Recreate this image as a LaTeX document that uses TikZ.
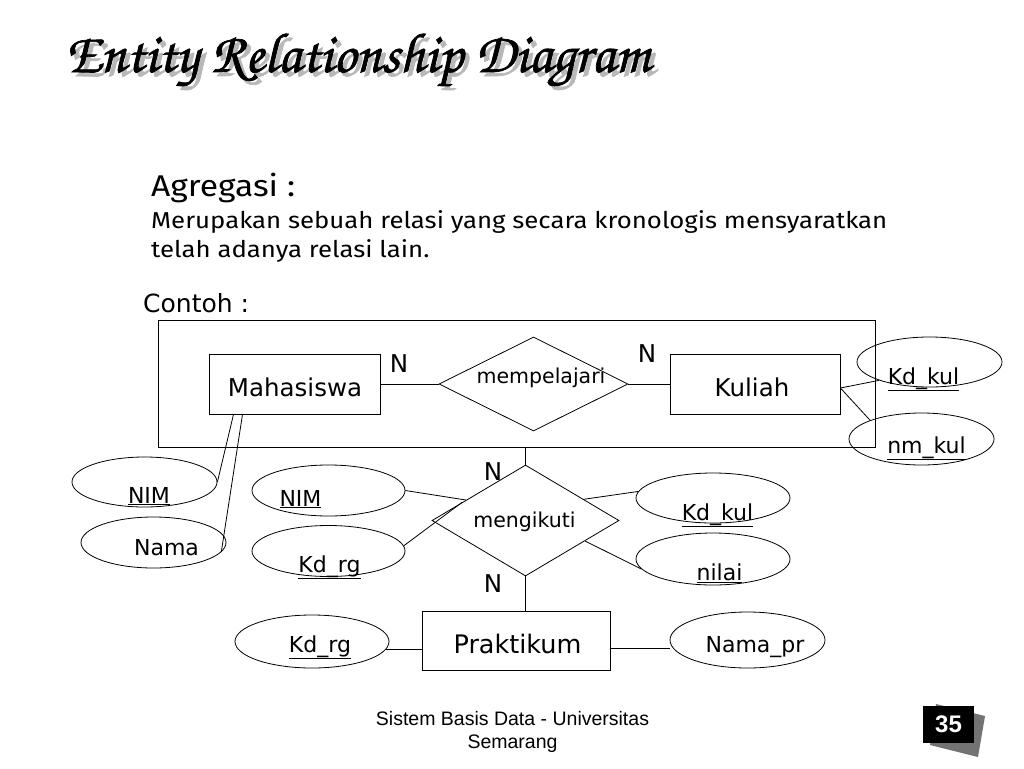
\documentclass[tikz,border=0pt]{standalone}
\usepackage{fontspec}
\setmainfont{DejaVu Sans}
\newfontfamily\titlefont[FakeBold=1.2]{TeX Gyre Chorus}
\newfontfamily\comicfont[FakeStretch=1.12]{Fira Sans}
\newfontfamily\arialfont{Liberation Sans}
\usetikzlibrary{shapes.geometric}
\newcommand\fsz[1]{\fontsize{#1}{#1}\selectfont}
\newcommand\shadowtext[1]{\makebox[0pt][l]{\hspace{4pt}\raisebox{-4pt}{\color{black!28}#1}}#1}
\tikzset{
  ent/.style={draw, line width=0.8pt, rectangle, inner sep=0pt},
  rel/.style={draw, line width=0.8pt, diamond, inner sep=0pt},
  attr/.style={draw, line width=0.8pt, ellipse, inner sep=0pt},
  conn/.style={line width=0.8pt},
  txt/.style={inner sep=0pt, anchor=base},
  btxt/.style={inner sep=0pt, anchor=base west},
  big/.style={font=\fsz{24.5}},
  small/.style={font=\fsz{20.5}},
  att/.style={font=\fsz{22}},
}
\begin{document}
\begin{tikzpicture}[x=1pt,y=-1pt]
\useasboundingbox (0,0) rectangle (1024,768);
% title
\node[btxt, font=\titlefont\fsz{56.5}] (title) at (65,72) {\shadowtext{Entity Relationship Diagram}};
% intro text
\node[btxt, font=\comicfont\fsz{30}] (agr) at (151,196) {Agregasi :};
\node[btxt, font=\comicfont\fsz{23}] (def1) at (151,228) {Merupakan sebuah relasi yang secara kronologis mensyaratkan};
\node[btxt, font=\comicfont\fsz{23}] (def2) at (151,257) {telah adanya relasi lain.};
\node[btxt, font=\fsz{25}] (contoh) at (143,312) {Contoh :};
% aggregation box
\node[draw, line width=0.8pt, minimum width=717, minimum height=127, inner sep=0pt] (agg) at (516.5,383.5) {};
% entities and relations
\node[ent, minimum width=171, minimum height=60] (mhs) at (294.5,384) {};
\node[ent, minimum width=170, minimum height=60] (kul) at (755,384) {};
\node[rel, minimum width=189, minimum height=94] (mp) at (533.5,384) {};
\node[rel, minimum width=187, minimum height=111] (mk) at (525.5,520.5) {};
\node[ent, minimum width=188, minimum height=59] (prk) at (516.6,640.5) {};
\node[txt, big] (tmhs) at (295,396) {Mahasiswa};
\node[txt, big] (tkul) at (752,396) {Kuliah};
\node[txt, small] (tmp) at (541,383) {mempelajari};
\node[txt, small] (tmk) at (524.5,527) {mengikuti};
\node[txt, font=\fsz{25.5}] (tprk) at (517.5,653) {Praktikum};
% cardinalities
\node[txt, big] (n1) at (399,372) {N};
\node[txt, big] (n2) at (647,362) {N};
\node[txt, big] (n3) at (493,480) {N};
\node[txt, big] (n4) at (493,592) {N};
% attributes
\node[attr, minimum width=145, minimum height=50] (enim1) at (144.5,482) {};
\node[attr, minimum width=145, minimum height=51] (enama) at (153.5,542.5) {};
\node[attr, minimum width=153, minimum height=51] (enim2) at (328.5,490.5) {};
\node[attr, minimum width=153, minimum height=51] (ekdrg2) at (328.5,551) {};
\node[attr, minimum width=154, minimum height=50] (ekdkul2) at (713,498) {};
\node[attr, minimum width=154, minimum height=52] (enilai) at (713,559) {};
\node[attr, minimum width=145, minimum height=50] (ekdkul1) at (929.5,362) {};
\node[attr, minimum width=145, minimum height=52] (enmkul) at (921.5,439) {};
\node[attr, minimum width=154, minimum height=53] (ekdrg3) at (312,641.5) {};
\node[attr, minimum width=155, minimum height=56] (enamapr) at (747.5,640) {};
\node[txt, att] (tnim1) at (149,503) {\underline{NIM}};
\node[txt, att] (tnama) at (166.5,555) {Nama};
\node[txt, att] (tnim2) at (300.5,506) {\underline{NIM}};
\node[txt, att] (tkdrg2) at (329.5,572) {\underline{Kd\_rg}};
\node[txt, att] (tkdkul2) at (717.5,520) {\underline{Kd\_kul}};
\node[txt, att] (tnilai) at (719.5,580) {\underline{nilai}};
\node[txt, att] (tkdkul1) at (923.5,384) {\underline{Kd\_kul}};
\node[txt, att] (tnmkul) at (926.5,453) {\underline{nm\_kul}};
\node[txt, att] (tkdrg3) at (320,652) {\underline{Kd\_rg}};
\node[txt, att] (tnamapr) at (755,652) {Nama\_pr};
% connectors
\draw[conn] (mhs.east) -- (mp.west);
\draw[conn] (mp.east) -- (kul.east -| kul.west);
\draw[conn] (mk.north |- agg.south) -- (mk.north);
\draw[conn] (mk.south) -- (mk.south |- prk.north);
\draw[conn] ([xshift=-61]mhs.south) -- (enim1.east);
\draw[conn] ([xshift=-52]mhs.south) -- (enama.-8);
\draw[conn] ([yshift=-4]kul.east) -- (ekdkul1.200);
\draw[conn] ([yshift=-4]kul.east) -- (enmkul.160);
\draw[conn] (enim2.east) -- (mk.161);
\draw[conn] (ekdrg2.4) -- (mk.164);
\draw[conn] (mk.20) -- (ekdkul2.175);
\draw[conn] (mk.-19.5) -- (enilai.188);
\draw[conn] (ekdrg3.-6) -- (ekdrg3.-6 -| prk.west);
\draw[conn] ([yshift=-8]prk.east) -- ([yshift=-8]prk.east -| enamapr.west);
% footer
\node[txt, font=\arialfont\fsz{19.5}] (foot1) at (512.5,725) {Sistem Basis Data - Universitas};
\node[txt, font=\arialfont\fsz{19.5}] (foot2) at (512.5,748) {Semarang};
\fill[black!55] (936,704) -- (985,716) -- (978,757) -- (930,745) -- cycle;
\node[fill=black, minimum width=51, minimum height=37, inner sep=0pt, text=white, font=\arialfont\bfseries\fsz{24}] (pg) at (948.5,724.5) {35};
\end{tikzpicture}
\end{document}
